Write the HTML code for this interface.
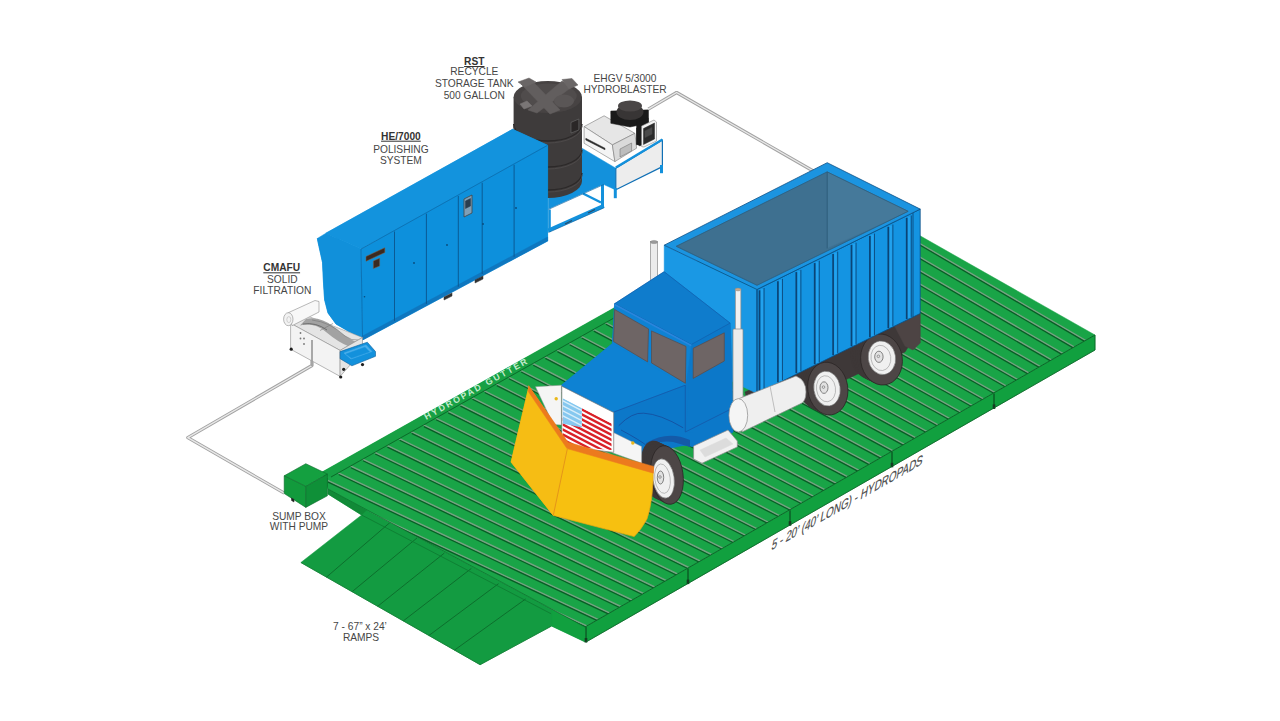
<!DOCTYPE html>
<html><head><meta charset="utf-8"><title>Hydropad system</title>
<style>
html,body{margin:0;padding:0;background:#fff;}
body{width:1280px;height:721px;overflow:hidden;font-family:"Liberation Sans",sans-serif;}
svg{display:block;}
</style></head><body>
<svg width="1280" height="721" viewBox="0 0 1280 721" font-family="Liberation Sans, sans-serif">
<rect width="1280" height="721" fill="#ffffff"/>
<path d="M312.0,340.0 L312.0,365.5 L187.8,437.7 L284.3,493.2" fill="none" stroke="#a3a3a3" stroke-width="3.2" stroke-linejoin="round"/>
<path d="M312.0,340.0 L312.0,365.5 L187.8,437.7 L284.3,493.2" fill="none" stroke="#e8e8e8" stroke-width="1.4000000000000001" stroke-linejoin="round"/>
<path d="M648.3,109.1 L676.6,92.5 L815.0,172.0" fill="none" stroke="#a3a3a3" stroke-width="3.2" stroke-linejoin="round"/>
<path d="M648.3,109.1 L676.6,92.5 L815.0,172.0" fill="none" stroke="#e8e8e8" stroke-width="1.4000000000000001" stroke-linejoin="round"/>
<polygon points="328.0,489.0 366.6,510.0 551.6,609.0 585.0,627.0 585.0,642.0 551.6,626.0 480.1,664.7 300.9,562.5 361.6,515.0 328.0,494.0" fill="#139b41" stroke="#139b41" stroke-width="0.5" stroke-linejoin="round"/>
<line x1="390.1" y1="522.4" x2="326.5" y2="577.1" stroke="#0c6a2a" stroke-width="0.9"/>
<line x1="417.2" y1="537.8" x2="352.1" y2="591.7" stroke="#0c6a2a" stroke-width="0.9"/>
<line x1="444.3" y1="553.1" x2="377.7" y2="606.3" stroke="#0c6a2a" stroke-width="0.9"/>
<line x1="471.4" y1="568.4" x2="403.3" y2="620.9" stroke="#0c6a2a" stroke-width="0.9"/>
<line x1="498.5" y1="583.7" x2="428.9" y2="635.5" stroke="#0c6a2a" stroke-width="0.9"/>
<line x1="525.6" y1="599.0" x2="454.5" y2="650.1" stroke="#0c6a2a" stroke-width="0.9"/>
<line x1="361.6" y1="515.0" x2="551.6" y2="614.0" stroke="#0e7a31" stroke-width="0.8"/>
<polyline points="300.9,562.5 480.1,664.7 551.6,626.0" fill="none" stroke="#0e7a30" stroke-width="0.8"/>
<polygon points="585.0,627.0 1095.0,335.0 1095.0,350.0 586.0,642.0" fill="#11a03f" stroke="#11a03f" stroke-width="0.5" stroke-linejoin="round"/>
<polygon points="322.0,472.0 328.0,478.0 328.0,494.0 361.6,515.0 366.6,510.0 328.0,489.0" fill="#118a37" stroke="#118a37" stroke-width="0.5" stroke-linejoin="round"/>
<polygon points="551.6,609.0 585.0,627.0 586.0,642.0 551.6,626.0" fill="#11a03f" stroke="#11a03f" stroke-width="0.5" stroke-linejoin="round"/>
<line x1="586.0" y1="627.0" x2="586.0" y2="642.0" stroke="#0b5a24" stroke-width="1.4"/>
<rect x="584.7" y="638.0" width="2.6" height="4.5" fill="#163a22"/>
<line x1="688.0" y1="568.6" x2="688.0" y2="583.6" stroke="#0b5a24" stroke-width="1.4"/>
<rect x="686.7" y="579.6" width="2.6" height="4.5" fill="#163a22"/>
<line x1="790.0" y1="510.2" x2="790.0" y2="525.2" stroke="#0b5a24" stroke-width="1.4"/>
<rect x="788.7" y="521.2" width="2.6" height="4.5" fill="#163a22"/>
<line x1="892.0" y1="451.8" x2="892.0" y2="466.8" stroke="#0b5a24" stroke-width="1.4"/>
<rect x="890.7" y="462.8" width="2.6" height="4.5" fill="#163a22"/>
<line x1="994.0" y1="393.4" x2="994.0" y2="408.4" stroke="#0b5a24" stroke-width="1.4"/>
<rect x="992.7" y="404.4" width="2.6" height="4.5" fill="#163a22"/>
<polyline points="586.0,642.0 1095.0,350.0 1095.0,335.0" fill="none" stroke="#0b5e25" stroke-width="0.8"/>
<polygon points="322.0,472.0 831.6,185.6 1095.0,335.0 585.0,627.0 366.6,510.0 328.0,489.0 328.0,478.0" fill="#19a447" stroke="#19a447" stroke-width="0.5" stroke-linejoin="round"/>
<clipPath id="padclip"><polygon points="322.0,472.0 831.6,185.6 1095.0,335.0 585.0,627.0 366.6,510.0 328.0,489.0 328.0,478.0"/></clipPath>
<g clip-path="url(#padclip)">
<polygon points="322.0,472.0 831.6,185.6 840.6,190.6 331.0,477.0" fill="#17a044" stroke="#17a044" stroke-width="0.5" stroke-linejoin="round"/>
<line x1="301.7" y1="493.5" x2="586.7" y2="626.0" stroke="#76a282" stroke-width="1.7"/>
<line x1="302.1" y1="495.1" x2="587.1" y2="627.6" stroke="#0a5c26" stroke-width="1.25"/>
<line x1="313.9" y1="486.6" x2="598.0" y2="619.5" stroke="#76a282" stroke-width="1.7"/>
<line x1="314.3" y1="488.2" x2="598.4" y2="621.1" stroke="#0a5c26" stroke-width="1.25"/>
<line x1="326.1" y1="479.8" x2="609.4" y2="613.0" stroke="#76a282" stroke-width="1.7"/>
<line x1="326.5" y1="481.4" x2="609.8" y2="614.6" stroke="#0a5c26" stroke-width="1.25"/>
<line x1="338.3" y1="472.9" x2="620.7" y2="606.6" stroke="#76a282" stroke-width="1.7"/>
<line x1="338.7" y1="474.5" x2="621.1" y2="608.2" stroke="#0a5c26" stroke-width="1.25"/>
<line x1="350.5" y1="466.1" x2="632.0" y2="600.1" stroke="#76a282" stroke-width="1.7"/>
<line x1="350.9" y1="467.7" x2="632.4" y2="601.7" stroke="#0a5c26" stroke-width="1.25"/>
<line x1="362.6" y1="459.2" x2="643.4" y2="593.6" stroke="#76a282" stroke-width="1.7"/>
<line x1="363.0" y1="460.8" x2="643.8" y2="595.2" stroke="#0a5c26" stroke-width="1.25"/>
<line x1="374.8" y1="452.4" x2="654.7" y2="587.1" stroke="#76a282" stroke-width="1.7"/>
<line x1="375.2" y1="454.0" x2="655.1" y2="588.7" stroke="#0a5c26" stroke-width="1.25"/>
<line x1="387.0" y1="445.5" x2="666.0" y2="580.6" stroke="#76a282" stroke-width="1.7"/>
<line x1="387.4" y1="447.1" x2="666.4" y2="582.2" stroke="#0a5c26" stroke-width="1.25"/>
<line x1="399.2" y1="438.7" x2="677.4" y2="574.1" stroke="#76a282" stroke-width="1.7"/>
<line x1="399.6" y1="440.3" x2="677.8" y2="575.7" stroke="#0a5c26" stroke-width="1.25"/>
<line x1="411.3" y1="431.8" x2="688.7" y2="567.6" stroke="#76a282" stroke-width="1.7"/>
<line x1="411.7" y1="433.4" x2="689.1" y2="569.2" stroke="#0a5c26" stroke-width="1.25"/>
<line x1="423.5" y1="425.0" x2="700.0" y2="561.1" stroke="#76a282" stroke-width="1.7"/>
<line x1="423.9" y1="426.6" x2="700.4" y2="562.7" stroke="#0a5c26" stroke-width="1.25"/>
<line x1="435.7" y1="418.2" x2="711.4" y2="554.6" stroke="#76a282" stroke-width="1.7"/>
<line x1="436.1" y1="419.8" x2="711.8" y2="556.2" stroke="#0a5c26" stroke-width="1.25"/>
<line x1="447.8" y1="411.3" x2="722.7" y2="548.2" stroke="#76a282" stroke-width="1.7"/>
<line x1="448.2" y1="412.9" x2="723.1" y2="549.8" stroke="#0a5c26" stroke-width="1.25"/>
<line x1="460.0" y1="404.5" x2="734.0" y2="541.7" stroke="#76a282" stroke-width="1.7"/>
<line x1="460.4" y1="406.1" x2="734.4" y2="543.3" stroke="#0a5c26" stroke-width="1.25"/>
<line x1="472.1" y1="397.7" x2="745.4" y2="535.2" stroke="#76a282" stroke-width="1.7"/>
<line x1="472.5" y1="399.3" x2="745.8" y2="536.8" stroke="#0a5c26" stroke-width="1.25"/>
<line x1="484.3" y1="390.9" x2="756.7" y2="528.7" stroke="#76a282" stroke-width="1.7"/>
<line x1="484.7" y1="392.5" x2="757.1" y2="530.3" stroke="#0a5c26" stroke-width="1.25"/>
<line x1="496.4" y1="384.0" x2="768.0" y2="522.2" stroke="#76a282" stroke-width="1.7"/>
<line x1="496.8" y1="385.6" x2="768.4" y2="523.8" stroke="#0a5c26" stroke-width="1.25"/>
<line x1="508.5" y1="377.2" x2="779.4" y2="515.7" stroke="#76a282" stroke-width="1.7"/>
<line x1="508.9" y1="378.8" x2="779.8" y2="517.3" stroke="#0a5c26" stroke-width="1.25"/>
<line x1="520.7" y1="370.4" x2="790.7" y2="509.2" stroke="#76a282" stroke-width="1.7"/>
<line x1="521.1" y1="372.0" x2="791.1" y2="510.8" stroke="#0a5c26" stroke-width="1.25"/>
<line x1="532.8" y1="363.6" x2="802.0" y2="502.7" stroke="#76a282" stroke-width="1.7"/>
<line x1="533.2" y1="365.2" x2="802.4" y2="504.3" stroke="#0a5c26" stroke-width="1.25"/>
<line x1="544.9" y1="356.8" x2="813.4" y2="496.2" stroke="#76a282" stroke-width="1.7"/>
<line x1="545.3" y1="358.4" x2="813.8" y2="497.8" stroke="#0a5c26" stroke-width="1.25"/>
<line x1="557.0" y1="350.0" x2="824.7" y2="489.8" stroke="#76a282" stroke-width="1.7"/>
<line x1="557.4" y1="351.6" x2="825.1" y2="491.4" stroke="#0a5c26" stroke-width="1.25"/>
<line x1="569.2" y1="343.2" x2="836.0" y2="483.3" stroke="#76a282" stroke-width="1.7"/>
<line x1="569.6" y1="344.8" x2="836.4" y2="484.9" stroke="#0a5c26" stroke-width="1.25"/>
<line x1="581.3" y1="336.4" x2="847.4" y2="476.8" stroke="#76a282" stroke-width="1.7"/>
<line x1="581.7" y1="338.0" x2="847.8" y2="478.4" stroke="#0a5c26" stroke-width="1.25"/>
<line x1="593.4" y1="329.5" x2="858.7" y2="470.3" stroke="#76a282" stroke-width="1.7"/>
<line x1="593.8" y1="331.1" x2="859.1" y2="471.9" stroke="#0a5c26" stroke-width="1.25"/>
<line x1="605.5" y1="322.7" x2="870.0" y2="463.8" stroke="#76a282" stroke-width="1.7"/>
<line x1="605.9" y1="324.3" x2="870.4" y2="465.4" stroke="#0a5c26" stroke-width="1.25"/>
<line x1="617.6" y1="315.9" x2="881.4" y2="457.3" stroke="#76a282" stroke-width="1.7"/>
<line x1="618.0" y1="317.5" x2="881.8" y2="458.9" stroke="#0a5c26" stroke-width="1.25"/>
<line x1="629.7" y1="309.1" x2="892.7" y2="450.8" stroke="#76a282" stroke-width="1.7"/>
<line x1="630.1" y1="310.7" x2="893.1" y2="452.4" stroke="#0a5c26" stroke-width="1.25"/>
<line x1="641.8" y1="302.4" x2="904.0" y2="444.3" stroke="#76a282" stroke-width="1.7"/>
<line x1="642.2" y1="304.0" x2="904.4" y2="445.9" stroke="#0a5c26" stroke-width="1.25"/>
<line x1="653.8" y1="295.6" x2="915.4" y2="437.8" stroke="#76a282" stroke-width="1.7"/>
<line x1="654.2" y1="297.2" x2="915.8" y2="439.4" stroke="#0a5c26" stroke-width="1.25"/>
<line x1="665.9" y1="288.8" x2="926.7" y2="431.4" stroke="#76a282" stroke-width="1.7"/>
<line x1="666.3" y1="290.4" x2="927.1" y2="433.0" stroke="#0a5c26" stroke-width="1.25"/>
<line x1="678.0" y1="282.0" x2="938.0" y2="424.9" stroke="#76a282" stroke-width="1.7"/>
<line x1="678.4" y1="283.6" x2="938.4" y2="426.5" stroke="#0a5c26" stroke-width="1.25"/>
<line x1="690.1" y1="275.2" x2="949.4" y2="418.4" stroke="#76a282" stroke-width="1.7"/>
<line x1="690.5" y1="276.8" x2="949.8" y2="420.0" stroke="#0a5c26" stroke-width="1.25"/>
<line x1="702.2" y1="268.4" x2="960.7" y2="411.9" stroke="#76a282" stroke-width="1.7"/>
<line x1="702.6" y1="270.0" x2="961.1" y2="413.5" stroke="#0a5c26" stroke-width="1.25"/>
<line x1="714.2" y1="261.6" x2="972.0" y2="405.4" stroke="#76a282" stroke-width="1.7"/>
<line x1="714.6" y1="263.2" x2="972.4" y2="407.0" stroke="#0a5c26" stroke-width="1.25"/>
<line x1="726.3" y1="254.8" x2="983.4" y2="398.9" stroke="#76a282" stroke-width="1.7"/>
<line x1="726.7" y1="256.4" x2="983.8" y2="400.5" stroke="#0a5c26" stroke-width="1.25"/>
<line x1="738.4" y1="248.1" x2="994.7" y2="392.4" stroke="#76a282" stroke-width="1.7"/>
<line x1="738.8" y1="249.7" x2="995.1" y2="394.0" stroke="#0a5c26" stroke-width="1.25"/>
<line x1="750.4" y1="241.3" x2="1006.0" y2="385.9" stroke="#76a282" stroke-width="1.7"/>
<line x1="750.8" y1="242.9" x2="1006.4" y2="387.5" stroke="#0a5c26" stroke-width="1.25"/>
<line x1="762.5" y1="234.5" x2="1017.4" y2="379.4" stroke="#76a282" stroke-width="1.7"/>
<line x1="762.9" y1="236.1" x2="1017.8" y2="381.0" stroke="#0a5c26" stroke-width="1.25"/>
<line x1="774.5" y1="227.7" x2="1028.7" y2="373.0" stroke="#76a282" stroke-width="1.7"/>
<line x1="774.9" y1="229.3" x2="1029.1" y2="374.6" stroke="#0a5c26" stroke-width="1.25"/>
<line x1="786.6" y1="221.0" x2="1040.0" y2="366.5" stroke="#76a282" stroke-width="1.7"/>
<line x1="787.0" y1="222.6" x2="1040.4" y2="368.1" stroke="#0a5c26" stroke-width="1.25"/>
<line x1="798.6" y1="214.2" x2="1051.4" y2="360.0" stroke="#76a282" stroke-width="1.7"/>
<line x1="799.0" y1="215.8" x2="1051.8" y2="361.6" stroke="#0a5c26" stroke-width="1.25"/>
<line x1="810.7" y1="207.4" x2="1062.7" y2="353.5" stroke="#76a282" stroke-width="1.7"/>
<line x1="811.1" y1="209.0" x2="1063.1" y2="355.1" stroke="#0a5c26" stroke-width="1.25"/>
<line x1="822.7" y1="200.7" x2="1074.0" y2="347.0" stroke="#76a282" stroke-width="1.7"/>
<line x1="823.1" y1="202.3" x2="1074.4" y2="348.6" stroke="#0a5c26" stroke-width="1.25"/>
<line x1="834.7" y1="193.9" x2="1085.4" y2="340.5" stroke="#76a282" stroke-width="1.7"/>
<line x1="835.1" y1="195.5" x2="1085.8" y2="342.1" stroke="#0a5c26" stroke-width="1.25"/>
<line x1="331.0" y1="477.0" x2="840.6" y2="190.6" stroke="#0c6a2a" stroke-width="1"/>
</g>
<line x1="585.0" y1="627.0" x2="1095.0" y2="335.0" stroke="#0b5e25" stroke-width="0.9"/>
<line x1="328.0" y1="489.0" x2="585.0" y2="627.0" stroke="#0c6a2a" stroke-width="0.7"/>
<text x="0" y="3.1" transform="translate(476.4,388.5) rotate(-29.1)" font-size="8.8" font-weight="bold" letter-spacing="2.0" fill="#c4ebcd" text-anchor="middle">HYDROPAD GUTTER</text>
<polygon points="284.2,475.8 305.8,463.7 327.4,474.1 305.8,486.5" fill="#14a040" stroke="#0b6a2a" stroke-width="0.6" stroke-linejoin="round"/>
<polygon points="284.2,475.8 305.8,486.5 305.8,507.4 284.2,493.5" fill="#129a3c" stroke="#0b6a2a" stroke-width="0.6" stroke-linejoin="round"/>
<polygon points="305.8,486.5 327.4,474.1 327.4,495.8 305.8,507.4" fill="#0f9038" stroke="#0b6a2a" stroke-width="0.6" stroke-linejoin="round"/>
<polygon points="291.5,498.0 294.0,499.5 294.0,502.0 291.5,500.5" fill="#222" stroke="#222" stroke-width="0.5" stroke-linejoin="round"/>
<polygon points="548.3,150.0 582.5,148.5 615.8,168.2 615.8,190.0 603.8,184.5 548.3,209.5" fill="#1391dc" stroke="#1391dc" stroke-width="0.5" stroke-linejoin="round"/>
<polygon points="548.3,209.5 603.8,184.5 603.8,205.2 548.3,229.0" fill="#ffffff" stroke="#ffffff" stroke-width="0.5" stroke-linejoin="round"/>
<line x1="549.5" y1="209.5" x2="549.5" y2="232.0" stroke="#1391dc" stroke-width="2.6"/>
<line x1="602.5" y1="178.0" x2="602.5" y2="207.0" stroke="#1391dc" stroke-width="3"/>
<polyline points="548.3,230.5 603.8,205.8" fill="none" stroke="#1391dc" stroke-width="4"/>
<polyline points="548.3,232.6 603.8,207.9" fill="none" stroke="#0b5e9a" stroke-width="0.6"/>
<line x1="583.0" y1="193.5" x2="601.0" y2="202.5" stroke="#1391dc" stroke-width="2.5"/>
<line x1="565.0" y1="224.0" x2="572.0" y2="220.5" stroke="#2a4a66" stroke-width="1.2"/>
<line x1="588.0" y1="213.0" x2="595.0" y2="209.5" stroke="#2a4a66" stroke-width="1.2"/>
<line x1="548.3" y1="209.5" x2="603.8" y2="184.5" stroke="#0b5e9a" stroke-width="0.6"/>
<path d="M513.5999999999999,97 L513.5999999999999,181 A34.2,17 0 0 0 582.0,181 L582.0,97 Z" fill="#3e3b3b"/>
<path d="M513.5999999999999,124 A34.2,17 0 0 0 582.0,124" fill="none" stroke="#2c2929" stroke-width="1.3"/>
<path d="M513.5999999999999,126 A34.2,17 0 0 0 582.0,126" fill="none" stroke="#514d4d" stroke-width="0.8"/>
<path d="M513.5999999999999,150 A34.2,17 0 0 0 582.0,150" fill="none" stroke="#2c2929" stroke-width="1.3"/>
<path d="M513.5999999999999,152 A34.2,17 0 0 0 582.0,152" fill="none" stroke="#514d4d" stroke-width="0.8"/>
<path d="M513.5999999999999,173 A34.2,17 0 0 0 582.0,173" fill="none" stroke="#2c2929" stroke-width="1.3"/>
<path d="M513.5999999999999,175 A34.2,17 0 0 0 582.0,175" fill="none" stroke="#514d4d" stroke-width="0.8"/>
<ellipse cx="547.8" cy="97" rx="34.2" ry="16" fill="#474343"/>
<ellipse cx="548.8" cy="96" rx="28" ry="12.5" fill="#504c4c"/>
<polygon points="521.0,84.0 532.0,80.5 560.0,110.0 550.0,114.0" fill="#625e5e" stroke="#625e5e" stroke-width="0.5" stroke-linejoin="round"/>
<polygon points="562.0,81.0 573.0,86.0 537.0,113.0 528.0,110.0" fill="#625e5e" stroke="#625e5e" stroke-width="0.5" stroke-linejoin="round"/>
<polygon points="518.0,82.0 529.0,78.0 536.0,82.0 525.0,87.0" fill="#6a6666" stroke="#6a6666" stroke-width="0.5" stroke-linejoin="round"/>
<polygon points="562.0,79.5 572.0,78.5 578.0,85.0 569.0,89.0" fill="#6a6666" stroke="#6a6666" stroke-width="0.5" stroke-linejoin="round"/>
<ellipse cx="564" cy="101" rx="10" ry="6.5" fill="#5a5656"/>
<polygon points="520.0,104.0 527.0,101.0 532.0,106.0 524.0,109.0" fill="#7a7676" stroke="#7a7676" stroke-width="0.5" stroke-linejoin="round"/>
<polygon points="571.0,122.4 578.8,119.0 578.8,130.0 571.0,133.0" fill="#2a2727" stroke="#777" stroke-width="0.5" stroke-linejoin="round"/>
<polygon points="325.9,233.2 361.0,249.1 362.6,338.0 348.0,331.0 336.0,324.0 328.0,313.0 324.6,299.8 323.5,283.2 322.5,262.4 318.0,242.0 317.3,238.5 547.6,241.0 547.6,145.3 512.6,129.3" fill="#1190da" stroke="#1190da" stroke-width="0.5" stroke-linejoin="round"/>
<polygon points="325.9,233.2 361.0,249.1 362.6,338.0 348.0,331.0 336.0,324.0 328.0,313.0 324.6,299.8 323.5,283.2 322.5,262.4 318.0,242.0 317.3,238.5" fill="#1190da" stroke="#1190da" stroke-width="0.5" stroke-linejoin="round"/>
<polygon points="325.9,233.2 512.6,129.3 547.6,145.3 361.0,249.1" fill="#1393dd" stroke="#1393dd" stroke-width="0.5" stroke-linejoin="round"/>
<polygon points="361.0,249.1 547.6,145.3 547.6,241.0 362.6,340.0" fill="#0d90dc" stroke="#0d90dc" stroke-width="0.5" stroke-linejoin="round"/>
<line x1="361.0" y1="249.1" x2="547.6" y2="145.3" stroke="#0d6fb0" stroke-width="0.9"/>
<line x1="361.0" y1="249.1" x2="362.6" y2="340.0" stroke="#0d6fb0" stroke-width="0.9"/>
<polygon points="362.6,336.0 547.6,237.0 547.6,241.0 362.6,340.0" fill="#0f77bf" stroke="#0f77bf" stroke-width="0.5" stroke-linejoin="round"/>
<line x1="394.5" y1="231.5" x2="394.5" y2="320.9" stroke="#0b5a94" stroke-width="1"/>
<line x1="426.4" y1="213.7" x2="426.4" y2="303.9" stroke="#0b5a94" stroke-width="1"/>
<line x1="458.3" y1="196.0" x2="458.3" y2="286.8" stroke="#0b5a94" stroke-width="1"/>
<line x1="482.2" y1="182.7" x2="482.2" y2="274.0" stroke="#0b5a94" stroke-width="1"/>
<line x1="514.1" y1="164.9" x2="514.1" y2="256.9" stroke="#0b5a94" stroke-width="1"/>
<circle cx="414" cy="263" r="0.9" fill="#0a4a7a"/>
<circle cx="447" cy="245" r="0.9" fill="#0a4a7a"/>
<circle cx="483" cy="224" r="0.9" fill="#0a4a7a"/>
<circle cx="516" cy="208" r="0.9" fill="#0a4a7a"/>
<polygon points="464.0,199.0 472.0,195.0 472.0,213.0 464.0,217.0" fill="#7f9fb6" stroke="#444" stroke-width="0.8" stroke-linejoin="round"/>
<polygon points="465.5,201.0 470.5,198.5 470.5,206.0 465.5,208.5" fill="#2a3e50" stroke="#2a3e50" stroke-width="0.5" stroke-linejoin="round"/>
<polygon points="366.0,256.5 384.8,247.8 384.8,252.5 366.0,261.2" fill="#3a2a22" stroke="#8a5a3a" stroke-width="0.5" stroke-linejoin="round"/>
<polygon points="373.4,261.0 379.6,258.3 379.6,266.0 373.4,268.6" fill="#3a2a22" stroke="#8a5a3a" stroke-width="0.5" stroke-linejoin="round"/>
<circle cx="364.5" cy="296.7" r="0.8" fill="#0a4a7a"/>
<polygon points="444.0,297.0 452.0,293.0 452.0,296.0 444.0,300.0" fill="#333" stroke="#333" stroke-width="0.5" stroke-linejoin="round"/>
<polygon points="475.0,280.0 483.0,276.0 483.0,279.0 475.0,283.0" fill="#333" stroke="#333" stroke-width="0.5" stroke-linejoin="round"/>
<polygon points="615.8,168.2 662.4,140.0 662.4,166.6 615.8,189.8" fill="#ededed" stroke="#1170b5" stroke-width="1.2" stroke-linejoin="round"/>
<line x1="615.8" y1="167.5" x2="662.4" y2="139.5" stroke="#1391dc" stroke-width="2.2"/>
<line x1="615.3" y1="188.0" x2="615.3" y2="198.2" stroke="#1391dc" stroke-width="3"/>
<line x1="661.5" y1="165.0" x2="661.5" y2="173.2" stroke="#1391dc" stroke-width="3"/>
<polygon points="584.1,126.6 604.1,115.8 634.9,133.3 612.4,144.9" fill="#e6e6e6" stroke="#7a7a7a" stroke-width="0.6" stroke-linejoin="round"/>
<polygon points="584.1,126.6 612.4,144.9 614.9,161.6 584.1,143.3" fill="#f4f4f4" stroke="#7a7a7a" stroke-width="0.6" stroke-linejoin="round"/>
<polygon points="612.4,144.9 634.9,133.3 636.6,148.2 614.9,161.6" fill="#dadada" stroke="#7a7a7a" stroke-width="0.6" stroke-linejoin="round"/>
<polygon points="585.8,138.3 605.0,148.2 605.0,149.8 585.8,140.0" fill="#2a2a2a" stroke="#2a2a2a" stroke-width="0.5" stroke-linejoin="round"/>
<polygon points="620.0,149.0 631.6,143.0 631.6,151.0 620.0,157.0" fill="#bdbdbd" stroke="#666" stroke-width="0.5" stroke-linejoin="round"/>
<polygon points="610.8,113.0 648.2,110.0 648.2,123.3 636.6,128.0 636.6,145.0 648.0,140.0 648.0,123.0" fill="#1a1a1a" stroke="#1a1a1a" stroke-width="0.5" stroke-linejoin="round"/>
<polygon points="610.8,111.0 648.2,110.0 648.2,123.3 630.0,127.0 610.8,123.3" fill="#1a1a1a" stroke="#1a1a1a" stroke-width="0.5" stroke-linejoin="round"/>
<ellipse cx="630" cy="112" rx="13.5" ry="8" fill="#383535"/>
<ellipse cx="630" cy="106" rx="12" ry="5.5" fill="#4a4646"/>
<polygon points="636.6,122.0 648.2,118.0 648.2,140.0 640.0,146.0 636.6,144.0" fill="#1a1a1a" stroke="#1a1a1a" stroke-width="0.5" stroke-linejoin="round"/>
<polygon points="641.6,126.0 654.0,120.0 656.5,122.0 656.5,141.0 644.0,147.0 641.6,146.6" fill="#f2f2f2" stroke="#888" stroke-width="0.6" stroke-linejoin="round"/>
<polygon points="643.5,128.5 654.5,123.0 654.5,139.0 643.5,144.5" fill="#2a2a2a" stroke="#2a2a2a" stroke-width="0.5" stroke-linejoin="round"/>
<polygon points="645.0,131.0 652.0,127.5 652.0,134.0 645.0,137.5" fill="#4a4a4a" stroke="#4a4a4a" stroke-width="0.5" stroke-linejoin="round"/>
<polygon points="290.6,323.3 305.0,315.0 362.5,337.5 340.1,350.4" fill="#e4e4e4" stroke="#8a8a8a" stroke-width="0.5" stroke-linejoin="round"/>
<path d="M300,325.5 Q314,322 326,332 Q338,342 348,346 L356,342 Q345,337 334,327 Q320,316 306,319 Z" fill="#a2a2a2"/>
<path d="M303,324 Q316,322 327,330" fill="none" stroke="#555" stroke-width="0.7"/>
<path d="M312,320 Q330,322 345,336 Q352,341 358,340" fill="none" stroke="#777" stroke-width="0.6"/>
<line x1="320.0" y1="330.5" x2="333.0" y2="323.5" stroke="#777" stroke-width="0.6"/>
<polygon points="290.6,323.3 340.1,350.4 340.1,376.4 290.6,349.2" fill="#f3f3f3" stroke="#8a8a8a" stroke-width="0.6" stroke-linejoin="round"/>
<polygon points="340.1,350.4 362.5,337.5 362.5,351.0 340.1,376.4" fill="#e4e4e4" stroke="#8a8a8a" stroke-width="0.6" stroke-linejoin="round"/>
<polygon points="288.3,312.7 315.0,300.5 319.0,301.5 319.0,312.0 292.0,325.7" fill="#f8f8f8" stroke="#8a8a8a" stroke-width="0.6" stroke-linejoin="round"/>
<ellipse cx="288.3" cy="319.2" rx="4.7" ry="6.5" fill="#f2f2f2" stroke="#8a8a8a" stroke-width="0.6"/>
<ellipse cx="288.8" cy="319.6" rx="2" ry="3" fill="none" stroke="#aaa" stroke-width="0.5"/>
<line x1="312.0" y1="340.0" x2="312.0" y2="366.0" stroke="#a0a0a0" stroke-width="1.8"/>
<circle cx="300.5" cy="333" r="0.9" fill="#777"/>
<circle cx="300.5" cy="338.5" r="0.9" fill="#777"/>
<circle cx="304" cy="338.5" r="0.9" fill="#777"/>
<circle cx="304" cy="344" r="0.9" fill="#777"/>
<polygon points="340.1,351.6 367.3,342.2 375.5,351.6 375.5,356.3 351.9,365.8 340.1,358.7" fill="#1391dc" stroke="#0b5e9a" stroke-width="0.6" stroke-linejoin="round"/>
<polygon points="344.0,353.0 366.0,345.0 372.0,351.5 351.0,359.0" fill="#4aaeea" stroke="#4aaeea" stroke-width="0.5" stroke-linejoin="round"/>
<polygon points="346.0,354.0 365.0,347.2 369.5,351.8 351.5,358.0" fill="#1391dc" stroke="#1391dc" stroke-width="0.5" stroke-linejoin="round"/>
<circle cx="291.2" cy="349.2" r="1.6" fill="#1d1d1d"/>
<circle cx="343.7" cy="369.3" r="1.6" fill="#1d1d1d"/>
<circle cx="340.7" cy="377" r="1.6" fill="#1d1d1d"/>
<circle cx="362.5" cy="364.6" r="1.6" fill="#1d1d1d"/>
<polygon points="745.0,392.0 905.0,318.0 918.0,332.0 905.0,352.0 770.0,415.0 750.0,412.0" fill="#3e3838" stroke="#3e3838" stroke-width="0.5" stroke-linejoin="round"/>
<polygon points="893.0,323.0 920.3,313.5 920.3,343.0 913.0,350.0 905.0,346.0" fill="#4d4444" stroke="#4d4444" stroke-width="0.5" stroke-linejoin="round"/>
<ellipse cx="871.0" cy="354.5" rx="20.8" ry="25.6" transform="rotate(-8 871.0 354.5)" fill="#3d3737"/>
<ellipse cx="872.8" cy="355.3" rx="20.8" ry="25.6" transform="rotate(-8 872.8 355.3)" fill="#3d3737"/>
<ellipse cx="874.5" cy="356.2" rx="20.8" ry="25.6" transform="rotate(-8 874.5 356.2)" fill="#3d3737"/>
<ellipse cx="876.2" cy="357.0" rx="20.8" ry="25.6" transform="rotate(-8 876.2 357.0)" fill="#3d3737"/>
<ellipse cx="878.0" cy="357.8" rx="20.8" ry="25.6" transform="rotate(-8 878.0 357.8)" fill="#3d3737"/>
<ellipse cx="879.8" cy="358.7" rx="20.8" ry="25.6" transform="rotate(-8 879.8 358.7)" fill="#3d3737"/>
<ellipse cx="881.5" cy="359.5" rx="20.8" ry="25.6" transform="rotate(-8 881.5 359.5)" fill="#4d4646" stroke="#2c2626" stroke-width="0.8"/>
<ellipse cx="881.9" cy="357.8" rx="13.7" ry="16.9" transform="rotate(-8 881.9 357.8)" fill="#f0f0f0" stroke="#6a6a6a" stroke-width="0.6"/>
<ellipse cx="880.9" cy="357.8" rx="9.9" ry="12.7" transform="rotate(-8 881.9 357.8)" fill="none" stroke="#9a9a9a" stroke-width="0.6"/>
<ellipse cx="878.9" cy="356.8" rx="4.2" ry="5.6" fill="#e2e2e2" stroke="#555" stroke-width="0.7"/>
<circle cx="878.4" cy="356.3" r="1.3" fill="none" stroke="#555" stroke-width="0.5"/>
<ellipse cx="817.3" cy="383.6" rx="20" ry="26.5" transform="rotate(-8 817.3 383.6)" fill="#3d3737"/>
<ellipse cx="819.0" cy="384.4" rx="20" ry="26.5" transform="rotate(-8 819.0 384.4)" fill="#3d3737"/>
<ellipse cx="820.8" cy="385.3" rx="20" ry="26.5" transform="rotate(-8 820.8 385.3)" fill="#3d3737"/>
<ellipse cx="822.5" cy="386.1" rx="20" ry="26.5" transform="rotate(-8 822.5 386.1)" fill="#3d3737"/>
<ellipse cx="824.3" cy="386.9" rx="20" ry="26.5" transform="rotate(-8 824.3 386.9)" fill="#3d3737"/>
<ellipse cx="826.0" cy="387.8" rx="20" ry="26.5" transform="rotate(-8 826.0 387.8)" fill="#3d3737"/>
<ellipse cx="827.8" cy="388.6" rx="20" ry="26.5" transform="rotate(-8 827.8 388.6)" fill="#4d4646" stroke="#2c2626" stroke-width="0.8"/>
<ellipse cx="827.0" cy="388.6" rx="13.2" ry="17.5" transform="rotate(-8 827.0 388.6)" fill="#f0f0f0" stroke="#6a6a6a" stroke-width="0.6"/>
<ellipse cx="826.0" cy="388.6" rx="9.5" ry="13.1" transform="rotate(-8 827.0 388.6)" fill="none" stroke="#9a9a9a" stroke-width="0.6"/>
<ellipse cx="824.0" cy="387.6" rx="4.0" ry="5.8" fill="#e2e2e2" stroke="#555" stroke-width="0.7"/>
<circle cx="823.5" cy="387.1" r="1.3" fill="none" stroke="#555" stroke-width="0.5"/>
<polygon points="664.2,245.2 757.0,289.5 757.0,393.5 664.2,349.0" fill="#1a98e4" stroke="#1a98e4" stroke-width="0.5" stroke-linejoin="round"/>
<polygon points="757.0,289.5 920.2,209.1 920.2,313.5 757.0,393.5" fill="#1494e2" stroke="#0b4f86" stroke-width="0.8" stroke-linejoin="round"/>
<line x1="761.9" y1="289.1" x2="761.9" y2="390.1" stroke="#22a2ee" stroke-width="2.4"/>
<line x1="759.5" y1="290.3" x2="759.5" y2="391.3" stroke="#0b4476" stroke-width="1.7"/>
<line x1="764.1" y1="288.0" x2="764.1" y2="389.0" stroke="#0c4a7e" stroke-width="0.9"/>
<line x1="780.3" y1="280.0" x2="780.3" y2="381.1" stroke="#22a2ee" stroke-width="2.4"/>
<line x1="777.9" y1="281.2" x2="777.9" y2="382.3" stroke="#0b4476" stroke-width="1.7"/>
<line x1="782.5" y1="278.9" x2="782.5" y2="380.0" stroke="#0c4a7e" stroke-width="0.9"/>
<line x1="798.7" y1="271.0" x2="798.7" y2="372.1" stroke="#22a2ee" stroke-width="2.4"/>
<line x1="796.3" y1="272.1" x2="796.3" y2="373.2" stroke="#0b4476" stroke-width="1.7"/>
<line x1="800.9" y1="269.9" x2="800.9" y2="371.0" stroke="#0c4a7e" stroke-width="0.9"/>
<line x1="817.1" y1="261.9" x2="817.1" y2="363.0" stroke="#22a2ee" stroke-width="2.4"/>
<line x1="814.7" y1="263.1" x2="814.7" y2="364.2" stroke="#0b4476" stroke-width="1.7"/>
<line x1="819.3" y1="260.8" x2="819.3" y2="362.0" stroke="#0c4a7e" stroke-width="0.9"/>
<line x1="835.5" y1="252.8" x2="835.5" y2="354.0" stroke="#22a2ee" stroke-width="2.4"/>
<line x1="833.1" y1="254.0" x2="833.1" y2="355.2" stroke="#0b4476" stroke-width="1.7"/>
<line x1="837.7" y1="251.7" x2="837.7" y2="352.9" stroke="#0c4a7e" stroke-width="0.9"/>
<line x1="853.9" y1="243.8" x2="853.9" y2="345.0" stroke="#22a2ee" stroke-width="2.4"/>
<line x1="851.5" y1="244.9" x2="851.5" y2="346.2" stroke="#0b4476" stroke-width="1.7"/>
<line x1="856.1" y1="242.7" x2="856.1" y2="343.9" stroke="#0c4a7e" stroke-width="0.9"/>
<line x1="872.3" y1="234.7" x2="872.3" y2="336.0" stroke="#22a2ee" stroke-width="2.4"/>
<line x1="869.9" y1="235.9" x2="869.9" y2="337.2" stroke="#0b4476" stroke-width="1.7"/>
<line x1="874.5" y1="233.6" x2="874.5" y2="334.9" stroke="#0c4a7e" stroke-width="0.9"/>
<line x1="890.7" y1="225.6" x2="890.7" y2="327.0" stroke="#22a2ee" stroke-width="2.4"/>
<line x1="888.3" y1="226.8" x2="888.3" y2="328.1" stroke="#0b4476" stroke-width="1.7"/>
<line x1="892.9" y1="224.5" x2="892.9" y2="325.9" stroke="#0c4a7e" stroke-width="0.9"/>
<line x1="909.1" y1="216.6" x2="909.1" y2="317.9" stroke="#22a2ee" stroke-width="2.4"/>
<line x1="906.7" y1="217.8" x2="906.7" y2="319.1" stroke="#0b4476" stroke-width="1.7"/>
<line x1="911.3" y1="215.5" x2="911.3" y2="316.9" stroke="#0c4a7e" stroke-width="0.9"/>
<line x1="913.0" y1="212.6" x2="913.0" y2="317.0" stroke="#0c4a7e" stroke-width="0.9"/>
<line x1="757.0" y1="289.5" x2="757.0" y2="393.5" stroke="#0c4a7e" stroke-width="1.0"/>
<polygon points="664.2,245.2 827.2,162.7 920.2,209.1 757.0,289.5" fill="#1b94e0" stroke="#0b4f86" stroke-width="0.8" stroke-linejoin="round"/>
<polygon points="676.3,246.3 827.2,171.9 908.1,211.3 757.0,285.3" fill="#3e7090" stroke="#3e7090" stroke-width="0.5" stroke-linejoin="round"/>
<polygon points="827.2,171.9 908.1,211.3 886.0,222.0 827.2,248.0" fill="#45799a" stroke="#45799a" stroke-width="0.5" stroke-linejoin="round"/>
<line x1="827.2" y1="171.9" x2="827.2" y2="248.4" stroke="#2d5a76" stroke-width="0.9"/>
<polygon points="676.3,246.3 827.2,171.9 908.1,211.3 757.0,285.3" fill="none" stroke="#2a5a7a" stroke-width="0.7" stroke-linejoin="round"/>
<rect x="650.5" y="241.5" width="7" height="70" fill="#ececec" stroke="#8a8a8a" stroke-width="0.7"/>
<ellipse cx="654" cy="242" rx="3.5" ry="1.6" fill="#9a9a9a" stroke="#888" stroke-width="0.5"/>
<polygon points="614.6,303.7 664.1,271.7 730.1,323.1 733.0,409.0 733.0,432.0 700.0,448.0 685.3,445.0 640.0,455.0 613.5,452.0 561.4,385.2 612.4,343.5" fill="#0c78c9" stroke="#0c78c9" stroke-width="0.5" stroke-linejoin="round"/>
<polygon points="691.3,344.5 730.1,323.1 733.0,409.0 733.0,432.0 700.0,448.0 685.3,445.0" fill="#0c78c9" stroke="#0c78c9" stroke-width="0.5" stroke-linejoin="round"/>
<polygon points="614.6,303.7 691.3,344.5 685.3,386.0 612.4,343.5" fill="#0e82d3" stroke="#0e82d3" stroke-width="0.5" stroke-linejoin="round"/>
<polygon points="614.6,303.7 664.1,271.7 730.1,323.1 691.3,344.5" fill="#0f7ccc" stroke="#125aa8" stroke-width="0.6" stroke-linejoin="round"/>
<line x1="614.6" y1="304.5" x2="691.3" y2="345.5" stroke="#2a86dc" stroke-width="1.5"/>
<polygon points="614.6,309.5 648.5,328.9 647.6,361.9 613.6,341.6" fill="#6e6565" stroke="#5a4a48" stroke-width="0.7" stroke-linejoin="round"/>
<polygon points="651.5,330.9 686.0,346.4 685.4,383.3 651.5,362.9" fill="#6e6565" stroke="#5a4a48" stroke-width="0.7" stroke-linejoin="round"/>
<polygon points="693.2,348.3 724.3,332.8 724.3,361.0 693.2,378.4" fill="#6e6565" stroke="#5a4a48" stroke-width="0.7" stroke-linejoin="round"/>
<polygon points="561.4,385.2 612.4,343.5 685.3,385.2 613.5,412.2" fill="#0e82d3" stroke="#0e82d3" stroke-width="0.5" stroke-linejoin="round"/>
<polygon points="613.5,412.2 685.3,385.2 685.3,432.0 693.0,433.0 693.0,445.0 672.0,446.0 660.0,446.0 648.0,448.0 640.0,455.0 613.0,452.0" fill="#0c78c9" stroke="#0c78c9" stroke-width="0.5" stroke-linejoin="round"/>
<line x1="613.5" y1="412.2" x2="685.3" y2="385.2" stroke="#1558a8" stroke-width="0.8"/>
<path d="M618.7,425.7 Q632,412 643.7,413.2 Q660,414 683.2,427.8" fill="none" stroke="#1450a0" stroke-width="0.9"/>
<path d="M621,430 Q640,440 647.8,446.5" fill="none" stroke="#1450a0" stroke-width="0.9"/>
<path d="M645,450 Q660,437 680,444 L690,447 L690,440 Q668,430 646,443 Z" fill="#145aa8"/>
<line x1="685.3" y1="385.2" x2="685.3" y2="432.0" stroke="#1558a8" stroke-width="0.8"/>
<line x1="685.3" y1="432.0" x2="731.0" y2="409.0" stroke="#1558a8" stroke-width="0.8"/>
<rect x="735.3" y="289" width="5.6" height="112" fill="#f1f1f1" stroke="#8a8a8a" stroke-width="0.7"/>
<rect x="733" y="329" width="10" height="72" rx="1" fill="#ececec" stroke="#8a8a8a" stroke-width="0.7"/>
<ellipse cx="738" cy="289.5" rx="2.8" ry="1.4" fill="#c9a98a" stroke="#888" stroke-width="0.5"/>
<path d="M739,398.6 L796,376 Q806,380 806,392 Q806,402 800,404 L742,432 Z" fill="#efefef" stroke="#8a8a8a" stroke-width="0.7"/>
<ellipse cx="738.3" cy="415.3" rx="9.4" ry="16.7" fill="#f5f5f5" stroke="#8a8a8a" stroke-width="0.7"/>
<line x1="770.0" y1="386.0" x2="775.0" y2="412.0" stroke="#b0b0b0" stroke-width="0.8"/>
<polygon points="693.6,446.0 728.0,430.0 737.3,441.0 737.3,447.0 702.0,463.2 693.6,459.0" fill="#f1f1f1" stroke="#8a8a8a" stroke-width="0.7" stroke-linejoin="round"/>
<polygon points="700.0,450.0 726.0,438.0 733.0,444.0 705.0,457.0" fill="#dcdcdc" stroke="#dcdcdc" stroke-width="0.5" stroke-linejoin="round"/>
<ellipse cx="656.5" cy="470.0" rx="16" ry="29.5" transform="rotate(-8 656.5 470.0)" fill="#3d3737"/>
<ellipse cx="658.2" cy="470.8" rx="16" ry="29.5" transform="rotate(-8 658.2 470.8)" fill="#3d3737"/>
<ellipse cx="660.0" cy="471.7" rx="16" ry="29.5" transform="rotate(-8 660.0 471.7)" fill="#3d3737"/>
<ellipse cx="661.8" cy="472.5" rx="16" ry="29.5" transform="rotate(-8 661.8 472.5)" fill="#3d3737"/>
<ellipse cx="663.5" cy="473.3" rx="16" ry="29.5" transform="rotate(-8 663.5 473.3)" fill="#3d3737"/>
<ellipse cx="665.2" cy="474.2" rx="16" ry="29.5" transform="rotate(-8 665.2 474.2)" fill="#3d3737"/>
<ellipse cx="667" cy="475" rx="16" ry="29.5" transform="rotate(-8 667 475)" fill="#4d4646" stroke="#2c2626" stroke-width="0.8"/>
<ellipse cx="663.5" cy="478.5" rx="10.7" ry="19.8" transform="rotate(-8 663.5 478.5)" fill="#f0f0f0" stroke="#6a6a6a" stroke-width="0.6"/>
<ellipse cx="662.5" cy="478.5" rx="7.7" ry="14.8" transform="rotate(-8 663.5 478.5)" fill="none" stroke="#9a9a9a" stroke-width="0.6"/>
<ellipse cx="660.5" cy="477.5" rx="3.2" ry="6.5" fill="#e2e2e2" stroke="#555" stroke-width="0.7"/>
<circle cx="660.0" cy="477.0" r="1.3" fill="none" stroke="#555" stroke-width="0.5"/>
<polygon points="535.5,386.7 561.4,385.2 561.4,425.0 553.3,424.4" fill="#f5f5f5" stroke="#999" stroke-width="0.5" stroke-linejoin="round"/>
<polygon points="612.4,432.0 641.6,446.5 641.6,463.2 612.4,452.8" fill="#f5f5f5" stroke="#999" stroke-width="0.5" stroke-linejoin="round"/>
<polygon points="561.8,386.2 613.7,412.5 613.7,452.4 561.8,446.0" fill="#ffffff" stroke="#777" stroke-width="0.7" stroke-linejoin="round"/>
<clipPath id="flagclip"><polygon points="562.5,398.1 611.5,423.6 611.5,450 562.5,446"/></clipPath>
<g clip-path="url(#flagclip)">
<polygon points="562.5,398.1 611.5,423.6 611.5,450 562.5,446" fill="#ffffff"/>
<polygon points="581.8,408.1 612.0,423.8 612.0,426.4 581.8,410.7" fill="#d92128"/>
<polygon points="581.8,413.1 612.0,428.8 612.0,431.4 581.8,415.7" fill="#d92128"/>
<polygon points="581.8,418.1 612.0,433.8 612.0,436.4 581.8,420.7" fill="#d92128"/>
<polygon points="581.8,423.1 612.0,438.8 612.0,441.4 581.8,425.7" fill="#d92128"/>
<polygon points="562.5,418.1 612.0,443.8 612.0,446.4 562.5,420.7" fill="#d92128"/>
<polygon points="562.5,423.1 612.0,448.8 612.0,451.4 562.5,425.7" fill="#d92128"/>
<polygon points="562.5,428.1 612.0,453.8 612.0,456.4 562.5,430.7" fill="#d92128"/>
<polygon points="562.5,433.1 612.0,458.8 612.0,461.4 562.5,435.7" fill="#d92128"/>
<polygon points="562.5,438.1 612.0,463.8 612.0,466.4 562.5,440.7" fill="#d92128"/>
<polygon points="562.5,443.1 612.0,468.8 612.0,471.4 562.5,445.7" fill="#d92128"/>
<polygon points="562.5,398.1 581.8,408.1 581.8,427.4 562.5,423.5" fill="#86c8ef"/>
<line x1="562.5" y1="400.6" x2="581.8" y2="410.6" stroke="#d9eefa" stroke-width="1.3"/>
<line x1="562.5" y1="405.6" x2="581.8" y2="415.6" stroke="#d9eefa" stroke-width="1.3"/>
<line x1="562.5" y1="410.6" x2="581.8" y2="420.6" stroke="#d9eefa" stroke-width="1.3"/>
<line x1="562.5" y1="415.6" x2="581.8" y2="425.6" stroke="#d9eefa" stroke-width="1.3"/>
</g>
<circle cx="556.2" cy="398.7" r="1.7" fill="#e9b81a"/>
<circle cx="632.8" cy="443" r="1.7" fill="#e9b81a"/>
<path d="M528.9,386.7 L567.7,443.3 L653.2,467.7 Q653.5,500 647,519 Q641,530 634.2,536.6 L553.3,515.4 L511.1,462.1 Z" fill="#f7c010" stroke="#e9a414" stroke-width="0.7"/>
<polygon points="528.9,386.7 567.7,443.3 553.3,515.4 511.1,462.1" fill="#f6bd14" stroke="#f6bd14" stroke-width="0.5" stroke-linejoin="round"/>
<polygon points="528.6,385.6 568.0,442.2 653.6,466.4 653.4,473.2 567.0,448.6 528.3,391.6" fill="#ec7a1e" stroke="#ec7a1e" stroke-width="0.5" stroke-linejoin="round"/>
<line x1="567.5" y1="448.0" x2="553.3" y2="515.4" stroke="#e5951a" stroke-width="1"/>
<text x="474.3" y="65.0" font-size="10.2" font-weight="bold" text-anchor="middle" fill="#333333" text-decoration="underline">RST</text>
<text x="474.3" y="75.3" font-size="10.2" font-weight="normal" text-anchor="middle" fill="#464646">RECYCLE</text>
<text x="474.3" y="87.1" font-size="10.2" font-weight="normal" text-anchor="middle" fill="#464646">STORAGE TANK</text>
<text x="474.3" y="98.8" font-size="10.2" font-weight="normal" text-anchor="middle" fill="#464646">500 GALLON</text>
<text x="625.0" y="82.0" font-size="10.2" font-weight="normal" text-anchor="middle" fill="#464646">EHGV 5/3000</text>
<text x="625.0" y="93.1" font-size="10.2" font-weight="normal" text-anchor="middle" fill="#464646">HYDROBLASTER</text>
<text x="400.9" y="139.7" font-size="10.2" font-weight="bold" text-anchor="middle" fill="#333333" text-decoration="underline">HE/7000</text>
<text x="400.9" y="152.5" font-size="10.2" font-weight="normal" text-anchor="middle" fill="#464646">POLISHING</text>
<text x="400.9" y="164.3" font-size="10.2" font-weight="normal" text-anchor="middle" fill="#464646">SYSTEM</text>
<text x="281.7" y="271.3" font-size="10.2" font-weight="bold" text-anchor="middle" fill="#333333" text-decoration="underline">CMAFU</text>
<text x="282.3" y="282.5" font-size="10.2" font-weight="normal" text-anchor="middle" fill="#464646">SOLID</text>
<text x="282.3" y="293.6" font-size="10.2" font-weight="normal" text-anchor="middle" fill="#464646">FILTRATION</text>
<text x="299.0" y="519.5" font-size="10.2" font-weight="normal" text-anchor="middle" fill="#464646">SUMP BOX</text>
<text x="299.0" y="530.2" font-size="10.2" font-weight="normal" text-anchor="middle" fill="#464646">WITH PUMP</text>
<text x="360.0" y="629.8" font-size="10.2" font-weight="normal" text-anchor="middle" fill="#464646">7 - 67” x 24’</text>
<text x="361.0" y="640.6" font-size="10.2" font-weight="normal" text-anchor="middle" fill="#464646">RAMPS</text>
<text x="0" y="0" transform="translate(771,550.4) rotate(-29.7) skewX(-40)" font-size="11.4" font-weight="normal" fill="#4a4a4a" stroke="#4a4a4a" stroke-width="0.15" text-anchor="start">5 - 20’ (40’ LONG) - HYDROPADS</text>
</svg>
</body></html>
